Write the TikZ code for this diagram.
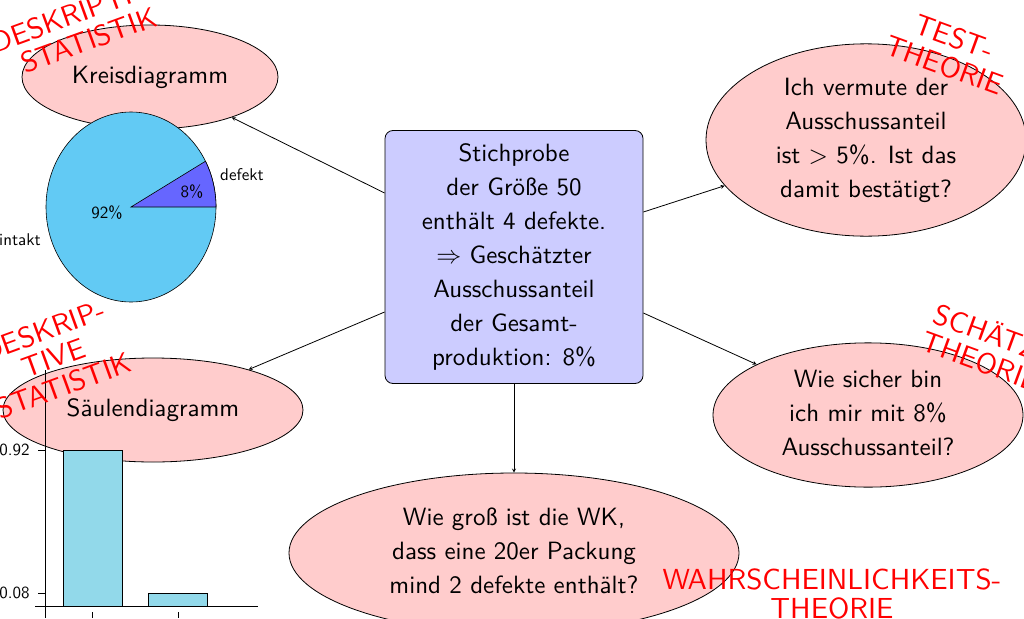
\documentclass[tikz,border=0pt]{standalone}
\usepackage[dvipsnames]{xcolor}
\usepackage{graphicx}
\usetikzlibrary{shapes.geometric,positioning}
\definecolor{boxblue}{HTML}{CCCCFF}
\definecolor{pink}{HTML}{FFCCCC}
\definecolor{pieblue}{HTML}{62CAF4}
\definecolor{slice}{HTML}{6666FF}
\definecolor{bar}{HTML}{92D9EA}
\newcommand{\bigtxt}[1]{\scalebox{2.5}{\fontsize{10}{13.6}\selectfont\begin{tabular}{@{}c@{}}#1\end{tabular}}}
\newcommand{\redtxt}[1]{\scalebox{2.9}{\fontsize{10}{10}\selectfont\begin{tabular}{@{}c@{}}#1\end{tabular}}}
\newcommand{\smalltxt}[1]{\scalebox{1.7}{\fontsize{10}{12}\selectfont #1}}
\begin{document}
\begin{tikzpicture}[x=1pt,y=-1pt,>=stealth,thick,font=\sffamily,
    topic/.style={ellipse,draw,fill=pink,inner sep=0pt,align=center},
    area/.style={text=red,inner sep=0pt},
    small/.style={inner sep=0pt}]
\useasboundingbox (0,0) rectangle (1024,618);

\node[draw,fill=boxblue,rounded corners=8pt,minimum width=258pt,minimum height=253pt] (box) at (514,257)
  {\bigtxt{Stichprobe\\der Größe 50\\enthält 4 defekte.\\$\Rightarrow$ Geschätzter\\Ausschussanteil\\der Gesamt-\\produktion: 8\%}};

\node[topic,minimum width=256pt,minimum height=104pt] (kreis) at (150,77) {\bigtxt{Kreisdiagramm}};
\node[topic,minimum width=300pt,minimum height=104pt] (saeule) at (153,410) {\bigtxt{Säulendiagramm}};
\node[topic,minimum width=320pt,minimum height=180pt] (test) at (866,140) {\bigtxt{Ich vermute der\\Ausschussanteil\\ist $>$ 5\%. Ist das\\damit bestätigt?}};
\node[topic,minimum width=310pt,minimum height=144pt] (schaetz) at (868,415) {\bigtxt{Wie sicher bin\\ich mir mit 8\%\\Ausschussanteil?}};
\node[topic,minimum width=450pt,minimum height=160pt] (wk) at (514,553) {\bigtxt{Wie groß ist die WK,\\dass eine 20er Packung\\mind 2 defekte enthält?}};

% pie chart
\begin{scope}[semithick]
\fill[pieblue,draw=black] (131,207) ellipse [x radius=85, y radius=95];
\fill[slice,draw=black] (131,207) -- (216,207) arc [start angle=0, end angle=28.8, x radius=85, y radius=-95] -- cycle;
\end{scope}
\node[small] (pdef) at (192,192) {\smalltxt{8\%}};
\node[small] (pint) at (107,213) {\smalltxt{92\%}};
\node[small] (ldef) at (242,175) {\smalltxt{defekt}};
\node[small] (lint) at (20,240) {\smalltxt{intakt}};

% bar chart
\begin{scope}[semithick]
\draw[fill=bar] (63,606) rectangle (122,450);
\draw[fill=bar] (148,606) rectangle (207,593);
\draw (45,370) -- (45,618);
\draw (35,606) -- (258,606);
\draw (45,450) -- (38,450);
\draw (45,593) -- (38,593);
\draw (92,612) -- (92,618);
\draw (178,612) -- (178,618);
\end{scope}
\node[small,anchor=east] (t1) at (30,450) {\smalltxt{0.92}};
\node[small,anchor=east] (t2) at (30,593) {\smalltxt{0.08}};

% area labels
\node[area,rotate=20] (a1) at (85,30) {\redtxt{DESKRIPTIVE\\STATISTIK}};
\node[area,rotate=20] (a2) at (55,362) {\redtxt{DESKRIP-\\TIVE\\STATISTIK}};
\node[area,rotate=-20] (a3) at (948,55) {\redtxt{TEST-\\THEORIE}};
\node[area,rotate=-20] (a4) at (985,350) {\redtxt{SCHÄTZ-\\THEORIE}};
\node[area] (a5) at (832,598) {\redtxt{WAHRSCHEINLICHKEITS-\\THEORIE}};

\draw[->,thick] (box.west |- 0,193) -- (kreis);
\draw[->,thick] (box.west |- 0,312) -- (saeule);
\draw[->,thick] (box.east |- 0,212) -- (test);
\draw[->,thick] (box.east |- 0,313) -- (schaetz);
\draw[->,thick] (box) -- (wk);
\end{tikzpicture}
\end{document}
